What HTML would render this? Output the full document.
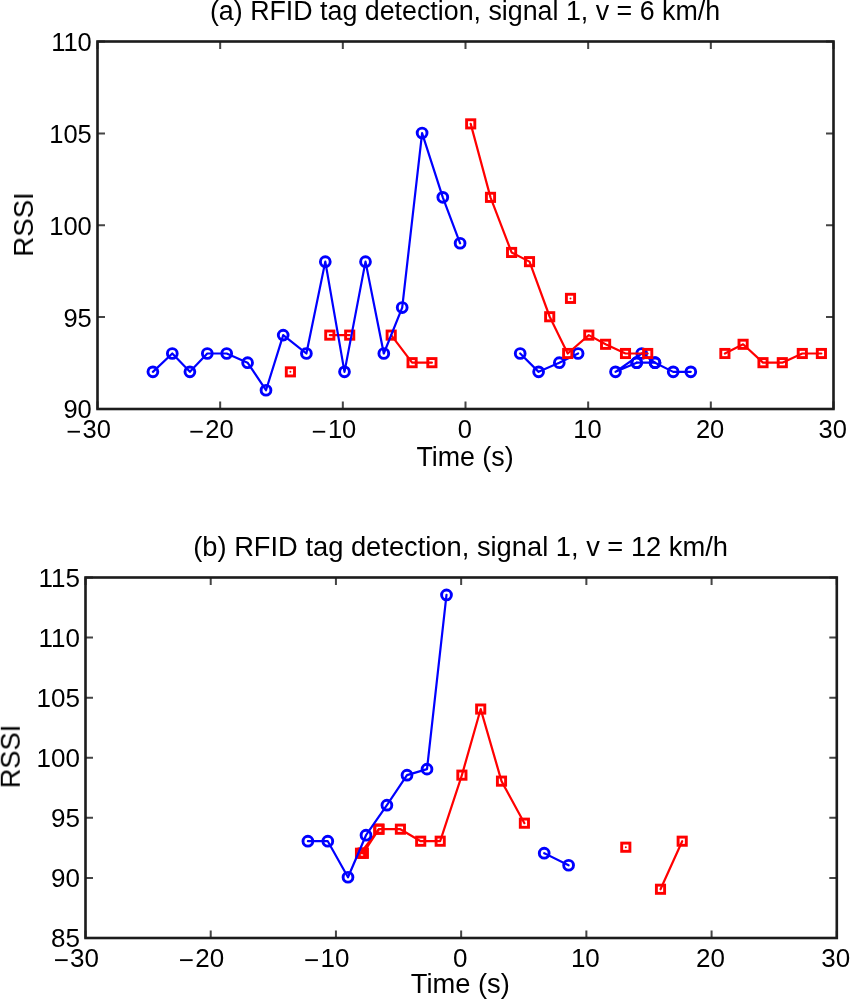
<!DOCTYPE html>
<html><head><meta charset="utf-8"><title>RFID tag detection</title>
<style>html,body{margin:0;padding:0;background:#fff;width:851px;height:1000px;overflow:hidden}svg{display:block}</style>
</head><body>
<svg width="851" height="1000" viewBox="0 0 851 1000">
<defs><filter id="bl" x="-5%" y="-5%" width="110%" height="110%"><feGaussianBlur stdDeviation="0.6"/></filter></defs>
<rect width="851" height="1000" fill="#fff"/>
<g filter="url(#bl)">
<path d="M97.5 409V401.5M97.5 41.5V49M220.17 409V401.5M220.17 41.5V49M342.83 409V401.5M342.83 41.5V49M465.5 409V401.5M465.5 41.5V49M588.17 409V401.5M588.17 41.5V49M710.83 409V401.5M710.83 41.5V49M833.5 409V401.5M833.5 41.5V49M97.5 409H105M833.5 409H826M97.5 317.12H105M833.5 317.12H826M97.5 225.25H105M833.5 225.25H826M97.5 133.38H105M833.5 133.38H826M97.5 41.5H105M833.5 41.5H826" stroke="#444" stroke-width="2.0" fill="none"/>
<rect x="97.5" y="41.5" width="736" height="367.5" fill="none" stroke="#1a1a1a" stroke-width="2.6"/>
<circle cx="290.4" cy="371.86" r="1" fill="#ff0000"/>
<rect x="286.3" y="367.76" width="8.2" height="8.2" fill="none" stroke="#ff0000" stroke-width="2.9"/>
<path d="M329.8 335.12 L349.7 335.12" fill="none" stroke="#ff0000" stroke-width="2.2" stroke-linejoin="round" stroke-linecap="round"/>
<rect x="325.7" y="331.02" width="8.2" height="8.2" fill="none" stroke="#ff0000" stroke-width="2.9"/>
<rect x="345.6" y="331.02" width="8.2" height="8.2" fill="none" stroke="#ff0000" stroke-width="2.9"/>
<path d="M391.2 335.12 L412.1 362.68 L431.9 362.68" fill="none" stroke="#ff0000" stroke-width="2.2" stroke-linejoin="round" stroke-linecap="round"/>
<rect x="387.1" y="331.02" width="8.2" height="8.2" fill="none" stroke="#ff0000" stroke-width="2.9"/>
<rect x="408" y="358.57" width="8.2" height="8.2" fill="none" stroke="#ff0000" stroke-width="2.9"/>
<rect x="427.8" y="358.57" width="8.2" height="8.2" fill="none" stroke="#ff0000" stroke-width="2.9"/>
<path d="M152.9 371.86 L172.3 353.49 L189.9 371.86 L207.3 353.49 L226.7 353.49 L247.6 362.68 L266 390.23 L283.2 335.12 L306.4 353.49 L325.3 261.64 L344.5 371.86 L365.5 261.64 L383.8 353.49 L402.2 307.56 L422.1 133.05 L442.8 197.34 L460.1 243.27" fill="none" stroke="#0000ff" stroke-width="2.2" stroke-linejoin="round" stroke-linecap="round"/>
<circle cx="152.9" cy="371.86" r="4.9" fill="none" stroke="#0000ff" stroke-width="2.9"/>
<circle cx="172.3" cy="353.49" r="4.9" fill="none" stroke="#0000ff" stroke-width="2.9"/>
<circle cx="189.9" cy="371.86" r="4.9" fill="none" stroke="#0000ff" stroke-width="2.9"/>
<circle cx="207.3" cy="353.49" r="4.9" fill="none" stroke="#0000ff" stroke-width="2.9"/>
<circle cx="226.7" cy="353.49" r="4.9" fill="none" stroke="#0000ff" stroke-width="2.9"/>
<circle cx="247.6" cy="362.68" r="4.9" fill="none" stroke="#0000ff" stroke-width="2.9"/>
<circle cx="266" cy="390.23" r="4.9" fill="none" stroke="#0000ff" stroke-width="2.9"/>
<circle cx="283.2" cy="335.12" r="4.9" fill="none" stroke="#0000ff" stroke-width="2.9"/>
<circle cx="306.4" cy="353.49" r="4.9" fill="none" stroke="#0000ff" stroke-width="2.9"/>
<circle cx="325.3" cy="261.64" r="4.9" fill="none" stroke="#0000ff" stroke-width="2.9"/>
<circle cx="344.5" cy="371.86" r="4.9" fill="none" stroke="#0000ff" stroke-width="2.9"/>
<circle cx="365.5" cy="261.64" r="4.9" fill="none" stroke="#0000ff" stroke-width="2.9"/>
<circle cx="383.8" cy="353.49" r="4.9" fill="none" stroke="#0000ff" stroke-width="2.9"/>
<circle cx="402.2" cy="307.56" r="4.9" fill="none" stroke="#0000ff" stroke-width="2.9"/>
<circle cx="422.1" cy="133.05" r="4.9" fill="none" stroke="#0000ff" stroke-width="2.9"/>
<circle cx="442.8" cy="197.34" r="4.9" fill="none" stroke="#0000ff" stroke-width="2.9"/>
<circle cx="460.1" cy="243.27" r="4.9" fill="none" stroke="#0000ff" stroke-width="2.9"/>
<path d="M520.2 353.49 L538.6 371.86 L559.3 362.68 L578.1 353.49" fill="none" stroke="#0000ff" stroke-width="2.2" stroke-linejoin="round" stroke-linecap="round"/>
<circle cx="520.2" cy="353.49" r="4.9" fill="none" stroke="#0000ff" stroke-width="2.9"/>
<circle cx="538.6" cy="371.86" r="4.9" fill="none" stroke="#0000ff" stroke-width="2.9"/>
<circle cx="559.3" cy="362.68" r="4.9" fill="none" stroke="#0000ff" stroke-width="2.9"/>
<circle cx="578.1" cy="353.49" r="4.9" fill="none" stroke="#0000ff" stroke-width="2.9"/>
<path d="M636.7 362.68 L615.5 371.86 L641.7 353.49 L655 362.68 L673.2 371.86 L690.8 371.86" fill="none" stroke="#0000ff" stroke-width="2.2" stroke-linejoin="round" stroke-linecap="round"/>
<circle cx="636.7" cy="362.68" r="4.9" fill="none" stroke="#0000ff" stroke-width="2.9"/>
<circle cx="615.5" cy="371.86" r="4.9" fill="none" stroke="#0000ff" stroke-width="2.9"/>
<circle cx="641.7" cy="353.49" r="4.9" fill="none" stroke="#0000ff" stroke-width="2.9"/>
<circle cx="655" cy="362.68" r="4.9" fill="none" stroke="#0000ff" stroke-width="2.9"/>
<circle cx="673.2" cy="371.86" r="4.9" fill="none" stroke="#0000ff" stroke-width="2.9"/>
<circle cx="690.8" cy="371.86" r="4.9" fill="none" stroke="#0000ff" stroke-width="2.9"/>
<path d="M636.7 362.68 L655 362.68" fill="none" stroke="#0000ff" stroke-width="2.2" stroke-linejoin="round" stroke-linecap="round"/>
<circle cx="636.7" cy="362.68" r="4.9" fill="none" stroke="#0000ff" stroke-width="2.9"/>
<circle cx="655" cy="362.68" r="4.9" fill="none" stroke="#0000ff" stroke-width="2.9"/>
<path d="M470.7 123.87 L490.5 197.34 L511.6 252.46 L529.5 261.64 L549.7 316.75 L567.7 353.49 L588.8 335.12 L605.6 344.31 L625.5 353.49 L647.7 353.49" fill="none" stroke="#ff0000" stroke-width="2.2" stroke-linejoin="round" stroke-linecap="round"/>
<rect x="466.6" y="119.77" width="8.2" height="8.2" fill="none" stroke="#ff0000" stroke-width="2.9"/>
<rect x="486.4" y="193.25" width="8.2" height="8.2" fill="none" stroke="#ff0000" stroke-width="2.9"/>
<rect x="507.5" y="248.36" width="8.2" height="8.2" fill="none" stroke="#ff0000" stroke-width="2.9"/>
<rect x="525.4" y="257.54" width="8.2" height="8.2" fill="none" stroke="#ff0000" stroke-width="2.9"/>
<rect x="545.6" y="312.65" width="8.2" height="8.2" fill="none" stroke="#ff0000" stroke-width="2.9"/>
<rect x="563.6" y="349.39" width="8.2" height="8.2" fill="none" stroke="#ff0000" stroke-width="2.9"/>
<rect x="584.7" y="331.02" width="8.2" height="8.2" fill="none" stroke="#ff0000" stroke-width="2.9"/>
<rect x="601.5" y="340.2" width="8.2" height="8.2" fill="none" stroke="#ff0000" stroke-width="2.9"/>
<rect x="621.4" y="349.39" width="8.2" height="8.2" fill="none" stroke="#ff0000" stroke-width="2.9"/>
<rect x="643.6" y="349.39" width="8.2" height="8.2" fill="none" stroke="#ff0000" stroke-width="2.9"/>
<circle cx="570.5" cy="298.38" r="1" fill="#ff0000"/>
<rect x="566.4" y="294.28" width="8.2" height="8.2" fill="none" stroke="#ff0000" stroke-width="2.9"/>
<path d="M724.9 353.49 L743.1 344.31 L763 362.68 L782.3 362.68 L802.3 353.49 L821.4 353.49" fill="none" stroke="#ff0000" stroke-width="2.2" stroke-linejoin="round" stroke-linecap="round"/>
<rect x="720.8" y="349.39" width="8.2" height="8.2" fill="none" stroke="#ff0000" stroke-width="2.9"/>
<rect x="739" y="340.2" width="8.2" height="8.2" fill="none" stroke="#ff0000" stroke-width="2.9"/>
<rect x="758.9" y="358.57" width="8.2" height="8.2" fill="none" stroke="#ff0000" stroke-width="2.9"/>
<rect x="778.2" y="358.57" width="8.2" height="8.2" fill="none" stroke="#ff0000" stroke-width="2.9"/>
<rect x="798.2" y="349.39" width="8.2" height="8.2" fill="none" stroke="#ff0000" stroke-width="2.9"/>
<rect x="817.3" y="349.39" width="8.2" height="8.2" fill="none" stroke="#ff0000" stroke-width="2.9"/>
<g font-family="Liberation Sans, sans-serif" font-size="25.5" fill="#000">
<text x="96.8" y="438.3" text-anchor="middle">30</text>
<text x="81.42" y="439.8" text-anchor="end">−</text>
<text x="219.47" y="438.3" text-anchor="middle">20</text>
<text x="204.09" y="439.8" text-anchor="end">−</text>
<text x="342.13" y="438.3" text-anchor="middle">10</text>
<text x="326.76" y="439.8" text-anchor="end">−</text>
<text x="464.8" y="438.3" text-anchor="middle">0</text>
<text x="587.47" y="438.3" text-anchor="middle">10</text>
<text x="710.13" y="438.3" text-anchor="middle">20</text>
<text x="832.8" y="438.3" text-anchor="middle">30</text>
<text x="91.8" y="418.4" text-anchor="end">90</text>
<text x="91.8" y="326.52" text-anchor="end">95</text>
<text x="91.8" y="234.65" text-anchor="end">100</text>
<text x="91.8" y="142.78" text-anchor="end">105</text>
<text x="91.8" y="50.9" text-anchor="end">110</text>
</g>
<g font-family="Liberation Sans, sans-serif" font-size="26.8" fill="#000">
<text x="465" y="20" text-anchor="middle">(a) RFID tag detection, signal 1, v = 6 km/h</text>
<text x="465" y="466" text-anchor="middle">Time (s)</text>
<text transform="translate(33 224.5) rotate(-90)" text-anchor="middle" font-size="27.6">RSSI</text>
</g>
<path d="M85.5 938V930.5M85.5 577.5V585M210.72 938V930.5M210.72 577.5V585M335.93 938V930.5M335.93 577.5V585M461.15 938V930.5M461.15 577.5V585M586.37 938V930.5M586.37 577.5V585M711.58 938V930.5M711.58 577.5V585M836.8 938V930.5M836.8 577.5V585M85.5 938H93M836.8 938H829.3M85.5 877.92H93M836.8 877.92H829.3M85.5 817.83H93M836.8 817.83H829.3M85.5 757.75H93M836.8 757.75H829.3M85.5 697.67H93M836.8 697.67H829.3M85.5 637.58H93M836.8 637.58H829.3M85.5 577.5H93M836.8 577.5H829.3" stroke="#444" stroke-width="2.0" fill="none"/>
<rect x="85.5" y="577.5" width="751.3" height="360.5" fill="none" stroke="#1a1a1a" stroke-width="2.6"/>
<path d="M363.2 853.22 L378.9 829.19" fill="none" stroke="#ff0000" stroke-width="2.2" stroke-linejoin="round" stroke-linecap="round"/>
<rect x="359.1" y="849.12" width="8.2" height="8.2" fill="none" stroke="#ff0000" stroke-width="2.9"/>
<rect x="374.8" y="825.09" width="8.2" height="8.2" fill="none" stroke="#ff0000" stroke-width="2.9"/>
<path d="M363.2 853.22 L360.5 853.22 L378.9 829.19 L400.4 829.19 L420.7 841.2 L440.2 841.2 L461.9 775.14 L480.7 709.07 L501.5 781.14 L524.4 823.19" fill="none" stroke="#ff0000" stroke-width="2.2" stroke-linejoin="round" stroke-linecap="round"/>
<rect x="359.1" y="849.12" width="8.2" height="8.2" fill="none" stroke="#ff0000" stroke-width="2.9"/>
<rect x="356.4" y="849.12" width="8.2" height="8.2" fill="none" stroke="#ff0000" stroke-width="2.9"/>
<rect x="374.8" y="825.09" width="8.2" height="8.2" fill="none" stroke="#ff0000" stroke-width="2.9"/>
<rect x="396.3" y="825.09" width="8.2" height="8.2" fill="none" stroke="#ff0000" stroke-width="2.9"/>
<rect x="416.6" y="837.1" width="8.2" height="8.2" fill="none" stroke="#ff0000" stroke-width="2.9"/>
<rect x="436.1" y="837.1" width="8.2" height="8.2" fill="none" stroke="#ff0000" stroke-width="2.9"/>
<rect x="457.8" y="771.04" width="8.2" height="8.2" fill="none" stroke="#ff0000" stroke-width="2.9"/>
<rect x="476.6" y="704.97" width="8.2" height="8.2" fill="none" stroke="#ff0000" stroke-width="2.9"/>
<rect x="497.4" y="777.04" width="8.2" height="8.2" fill="none" stroke="#ff0000" stroke-width="2.9"/>
<rect x="520.3" y="819.09" width="8.2" height="8.2" fill="none" stroke="#ff0000" stroke-width="2.9"/>
<circle cx="625.8" cy="847.21" r="1" fill="#ff0000"/>
<rect x="621.7" y="843.11" width="8.2" height="8.2" fill="none" stroke="#ff0000" stroke-width="2.9"/>
<path d="M660.5 889.25 L682.2 841.2" fill="none" stroke="#ff0000" stroke-width="2.2" stroke-linejoin="round" stroke-linecap="round"/>
<rect x="656.4" y="885.15" width="8.2" height="8.2" fill="none" stroke="#ff0000" stroke-width="2.9"/>
<rect x="678.1" y="837.1" width="8.2" height="8.2" fill="none" stroke="#ff0000" stroke-width="2.9"/>
<path d="M307.9 841.2 L327.8 841.2 L348 877.24 L366 835.2 L386.9 805.17 L407 775.14 L427 769.13 L446.5 594.96" fill="none" stroke="#0000ff" stroke-width="2.2" stroke-linejoin="round" stroke-linecap="round"/>
<circle cx="307.9" cy="841.2" r="4.9" fill="none" stroke="#0000ff" stroke-width="2.9"/>
<circle cx="327.8" cy="841.2" r="4.9" fill="none" stroke="#0000ff" stroke-width="2.9"/>
<circle cx="348" cy="877.24" r="4.9" fill="none" stroke="#0000ff" stroke-width="2.9"/>
<circle cx="366" cy="835.2" r="4.9" fill="none" stroke="#0000ff" stroke-width="2.9"/>
<circle cx="386.9" cy="805.17" r="4.9" fill="none" stroke="#0000ff" stroke-width="2.9"/>
<circle cx="407" cy="775.14" r="4.9" fill="none" stroke="#0000ff" stroke-width="2.9"/>
<circle cx="427" cy="769.13" r="4.9" fill="none" stroke="#0000ff" stroke-width="2.9"/>
<circle cx="446.5" cy="594.96" r="4.9" fill="none" stroke="#0000ff" stroke-width="2.9"/>
<path d="M544.2 853.22 L568.6 865.23" fill="none" stroke="#0000ff" stroke-width="2.2" stroke-linejoin="round" stroke-linecap="round"/>
<circle cx="544.2" cy="853.22" r="4.9" fill="none" stroke="#0000ff" stroke-width="2.9"/>
<circle cx="568.6" cy="865.23" r="4.9" fill="none" stroke="#0000ff" stroke-width="2.9"/>
<g font-family="Liberation Sans, sans-serif" font-size="26" fill="#000">
<text x="84.5" y="967.2" text-anchor="middle">30</text>
<text x="68.84" y="968.7" text-anchor="end">−</text>
<text x="209.72" y="967.2" text-anchor="middle">20</text>
<text x="194.06" y="968.7" text-anchor="end">−</text>
<text x="334.93" y="967.2" text-anchor="middle">10</text>
<text x="319.28" y="968.7" text-anchor="end">−</text>
<text x="460.15" y="967.2" text-anchor="middle">0</text>
<text x="585.37" y="967.2" text-anchor="middle">10</text>
<text x="710.58" y="967.2" text-anchor="middle">20</text>
<text x="835.8" y="967.2" text-anchor="middle">30</text>
<text x="80" y="947" text-anchor="end">85</text>
<text x="80" y="886.92" text-anchor="end">90</text>
<text x="80" y="826.83" text-anchor="end">95</text>
<text x="80" y="766.75" text-anchor="end">100</text>
<text x="80" y="706.67" text-anchor="end">105</text>
<text x="80" y="646.58" text-anchor="end">110</text>
<text x="80" y="586.5" text-anchor="end">115</text>
</g>
<g font-family="Liberation Sans, sans-serif" font-size="27.3" fill="#000">
<text x="460.6" y="555.8" text-anchor="middle">(b) RFID tag detection, signal 1, v = 12 km/h</text>
<text x="460.3" y="993.4" text-anchor="middle">Time (s)</text>
<text transform="translate(19.8 756.5) rotate(-90)" text-anchor="middle">RSSI</text>
</g>
</g></svg>
</body></html>
